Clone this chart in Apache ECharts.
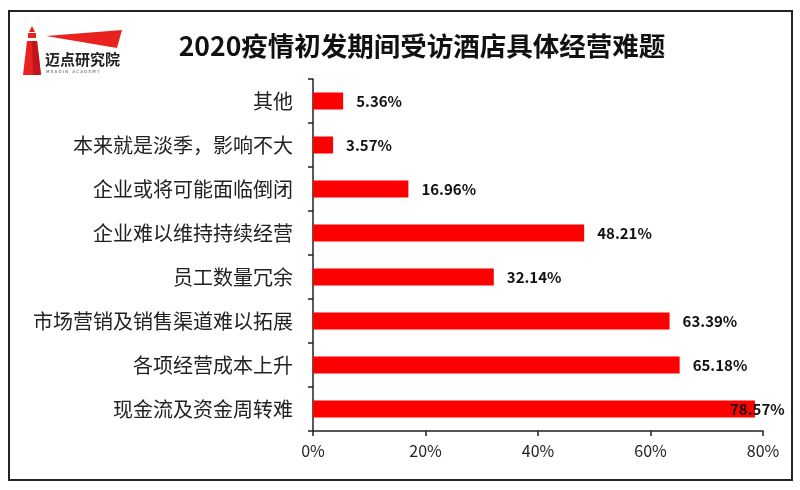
<!DOCTYPE html>
<html>
<head>
<meta charset="utf-8">
<script src="https://cdn.jsdelivr.net/npm/echarts@6/dist/echarts.min.js"></script>
<style>
  html, body { margin: 0; padding: 0; background: #fff; }
  #chart { width: 800px; height: 490px; }
</style>
</head>
<body>
<div id="chart"></div>
<script>
// 经营难题（从上到下）
const categories = [
  "其他",
  "本来就是淡季，影响不大",
  "企业或将可能面临倒闭",
  "企业难以维持持续经营",
  "员工数量冗余",
  "市场营销及销售渠道难以拓展",
  "各项经营成本上升",
  "现金流及资金周转难"
];
const percents = [5.36, 3.57, 16.96, 48.21, 32.14, 63.39, 65.18, 78.57];
const xTicks = [0, 20, 40, 60, 80];

const font = "'Noto Sans CJK SC', 'Noto Sans', sans-serif";
const chart = echarts.init(document.getElementById("chart"));

const barData = percents.map((v, i) => {
  const item = { value: v };
  // 最后一个标签在原图里压在柱子上
  if (i === percents.length - 1) {
    item.label = { offset: [-38, 0] };
  }
  return item;
});

chart.setOption({
  backgroundColor: "#fff",
  animation: false,
  title: {
    text: "2020疫情初发期间受访酒店具体经营难题",
    left: 417,
    top: 28,
    textAlign: "center",
    textStyle: { fontFamily: font, fontSize: 26.5, fontWeight: "bold", color: "#111" }
  },
  grid: { left: 313, right: 37, top: 79, bottom: 59 },
  xAxis: {
    type: "value",
    min: xTicks[0],
    max: xTicks[xTicks.length - 1],
    interval: 20,
    axisLine: { show: true, lineStyle: { color: "#222", width: 1.5 } },
    axisTick: { show: true, length: 5, lineStyle: { color: "#222", width: 1.5 } },
    splitLine: { show: false },
    axisLabel: {
      margin: 12,
      fontFamily: font,
      fontSize: 16,
      color: "#222",
      formatter: "{value}%"
    }
  },
  yAxis: {
    type: "category",
    inverse: true,
    data: categories,
    axisLine: { show: true, lineStyle: { color: "#222", width: 1.5 } },
    axisTick: { show: true, length: 5, lineStyle: { color: "#222", width: 1.5 } },
    axisLabel: { margin: 20, fontFamily: font, fontSize: 20, color: "#222" }
  },
  series: [
    {
      type: "bar",
      data: barData,
      barWidth: 17,
      itemStyle: { color: "#ff0000" },
      label: {
        show: true,
        position: "right",
        distance: 13,
        fontFamily: font,
        fontSize: 15,
        fontWeight: "bold",
        color: "#111",
        formatter: p => p.value.toFixed(2) + "%"
      }
    }
  ],
  graphic: [
    // 外框
    {
      type: "rect",
      shape: { x: 9, y: 11, width: 783, height: 469 },
      style: { fill: "none", stroke: "#222", lineWidth: 2 }
    },
    // logo：灯塔
    {
      type: "polygon",
      shape: { points: [[29, 32], [32, 26], [35, 32]] },
      style: { fill: "#e8231f" }
    },
    {
      type: "rect",
      shape: { x: 28, y: 33, width: 8, height: 5 },
      style: { fill: "#e8231f" }
    },
    {
      type: "polygon",
      shape: { points: [[27, 41], [37, 41], [41, 75], [23, 75]] },
      style: { fill: "#e8231f" }
    },
    {
      type: "polygon",
      shape: { points: [[32, 41], [37, 41], [41, 75], [33, 75]] },
      style: { fill: "#c0151a" }
    },
    // logo：光束
    {
      type: "polygon",
      shape: { points: [[46, 36], [122, 30], [117, 48]] },
      style: { fill: "#e8231f" }
    },
    {
      type: "text",
      style: {
        x: 45, y: 52,
        text: "迈点研究院",
        fontFamily: font,
        fontSize: 15,
        fontWeight: "bold",
        fill: "#222"
      }
    },
    {
      type: "text",
      style: {
        x: 46, y: 70,
        text: "M E A D I N   A C A D E M Y",
        fontFamily: "'DejaVu Sans', sans-serif",
        fontSize: 4,
        fill: "#555"
      }
    }
  ]
});
</script>
</body>
</html>
